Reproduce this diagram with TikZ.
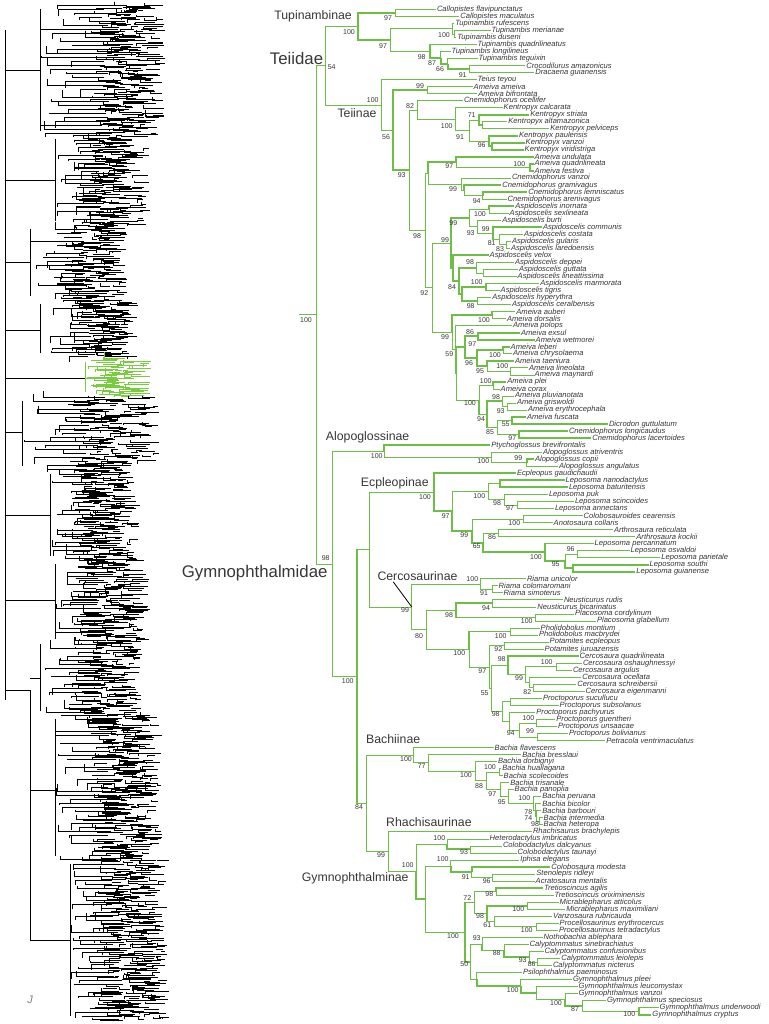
\documentclass[tikz,border=0pt]{standalone}
\usepackage{fontspec}
\setmainfont{Liberation Sans}
\usetikzlibrary{calc}
\definecolor{gr}{RGB}{108,190,70}
\definecolor{gl}{RGB}{120,205,60}
\definecolor{tx}{RGB}{55,55,55}
\newcounter{bsn}
\newcommand\lf[3]{%
  \pgfmathsetmacro\ly{9.3+(#1-1)*7.03}%
  \coordinate (l#1) at ({#2-1.5},\ly);
  \node[leaf] (t#1) at (l#1) {#3};}
\newcommand\nd[6]{%
  \coordinate (tmp) at ($(#3)!0.5!(#5)$);
  \coordinate (#1) at (#2,0 |- tmp);
  \draw[#4] (#1) |- (#3);
  \draw[#6] (#1) |- (#5);}
\newcommand\bs[3]{\stepcounter{bsn}\node[bsl] (b\thebsn) at (#2,#3) {#1};}
% block of the overview tree: y1 y2 internal-from internal-to tip-from tip-to style
\newcommand\hair[7]{%
  \pgfmathsetmacro\ynext{#1+0.7}%
  \foreach \yy in {#1,\ynext,...,#2}{%
    \pgfmathsetmacro\xb{#5+rnd*(#6-#5)}%
    \pgfmathsetmacro\xa{\xb-4-rnd*26}%
    \pgfmathsetmacro\dy{(rnd-0.5)*7}%
    \draw[#7] (\xa,\yy+\dy) |- (\xb,\yy);
  }%
  \pgfmathsetmacro\ynextb{#1+4}%
  \foreach \yy in {#1,\ynextb,...,#2}{%
    \pgfmathsetmacro\xa{#3+rnd*(#4-#3)}%
    \pgfmathsetmacro\xb{#4+rnd*(#5-#4)+6}%
    \pgfmathsetmacro\dy{(rnd-0.5)*16}%
    \draw[#7] (\xa,\yy+\dy) |- (\xb,\yy);
  }%
  \draw[#7] (#3,#1+4) -- (#3,#2-4);
}
\tikzset{
  tn/.style={gr, line width=0.7},
  tk/.style={gr, line width=1.8},
  lt/.style={black, line width=0.5},
  lgreen/.style={gl, line width=0.5},
  leaf/.style={anchor=west, inner sep=1pt, font=\fontsize{7.6}{7.6}\selectfont\itshape, text=tx},
  bsl/.style={inner sep=0pt, font=\fontsize{7}{7}\selectfont, text=tx},
  clade/.style={inner sep=0pt, font=\fontsize{12.3}{12.3}\selectfont, text=tx},
  fam/.style={inner sep=0pt, font=\fontsize{16.8}{16.8}\selectfont, text=tx}
}
\begin{document}
\begin{tikzpicture}[x=1pt,y=-1pt]
\useasboundingbox (0,0) rectangle (768,1024);
\fill[white] (0,0) rectangle (768,1024);

% ---------------- left overview tree ----------------
\pgfmathsetseed{42}
\draw[lt] (5,30) -- (5,700);
\draw[lt] (5,70) -- (40,70);
\draw[lt] (5,180) -- (55,180);
\draw[lt] (5,262) -- (30,262);
\draw[lt] (5,330) -- (40,330);
\draw[lt] (5,378) -- (85,378);
\draw[lt] (5,432) -- (22,432);
\draw[lt] (5,515) -- (50,515);
\draw[lt] (5,600) -- (55,600);
\draw[lt] (5,690) -- (30,690);
\draw[lt] (30,690) -- (30,940);
\draw[lt] (30,678) -- (40,678);
\draw[lt] (30,790) -- (55,790);
\draw[lt] (30,940) -- (70,940);
\hair{5}{135}{40}{95}{115}{165}{lt}
\hair{135}{225}{55}{90}{100}{150}{lt}
\hair{225}{300}{30}{75}{80}{128}{lt}
\hair{300}{357}{40}{80}{90}{138}{lt}
\hair{358}{396}{85}{105}{112}{152}{lgreen}
\hair{397}{470}{22}{80}{95}{160}{lt}
\hair{470}{560}{50}{85}{90}{140}{lt}
\hair{560}{640}{55}{90}{95}{150}{lt}
\hair{640}{715}{40}{85}{98}{142}{lt}
\hair{715}{860}{55}{100}{112}{162}{lt}
\hair{860}{1020}{70}{105}{118}{170}{lt}
\node[text=gray, font=\fontsize{11}{11}\selectfont\itshape] (logo) at (30,1000) {J};

% ---------------- leaves ----------------
\lf{1}{437.3}{Callopistes flavipunctatus}
\lf{2}{460.7}{Callopistes maculatus}
\lf{3}{455.7}{Tupinambis rufescens}
\lf{4}{492}{Tupinambis merianae}
\lf{5}{457.7}{Tupinambis duseni}
\lf{6}{478}{Tupinambis quadrilineatus}
\lf{7}{452}{Tupinambis longilineus}
\lf{8}{479}{Tupinambis teguixin}
\lf{9}{526.7}{Crocodilurus amazonicus}
\lf{10}{535.7}{Dracaena guianensis}
\lf{11}{478}{Teius teyou}
\lf{12}{474}{Ameiva ameiva}
\lf{13}{478.7}{Ameiva bifrontata}
\lf{14}{464.3}{Cnemidophorus ocellifer}
\lf{15}{504}{Kentropyx calcarata}
\lf{16}{530.7}{Kentropyx striata}
\lf{17}{508.7}{Kentropyx altamazonica}
\lf{18}{550.7}{Kentropyx pelviceps}
\lf{19}{519.3}{Kentropyx paulensis}
\lf{20}{526}{Kentropyx vanzoi}
\lf{21}{525}{Kentropyx viridistriga}
\lf{22}{535}{Ameiva undulata}
\lf{23}{535}{Ameiva quadrilineata}
\lf{24}{535}{Ameiva festiva}
\lf{25}{512.3}{Cnemidophorus vanzoi}
\lf{26}{502.7}{Cnemidophorus gramivagus}
\lf{27}{528.7}{Cnemidophorus lemniscatus}
\lf{28}{508}{Cnemidophorus arenivagus}
\lf{29}{515.7}{Aspidoscelis inornata}
\lf{30}{510}{Aspidoscelis sexlineata}
\lf{31}{502.7}{Aspidoscelis burti}
\lf{32}{543.3}{Aspidoscelis communis}
\lf{33}{524.3}{Aspidoscelis costata}
\lf{34}{512.3}{Aspidoscelis gularis}
\lf{35}{511.3}{Aspidoscelis laredoensis}
\lf{36}{490}{Aspidoscelis velox}
\lf{37}{515.3}{Aspidoscelis deppei}
\lf{38}{519.3}{Aspidoscelis guttata}
\lf{39}{518}{Aspidoscelis lineattissima}
\lf{40}{540.7}{Aspidoscelis marmorata}
\lf{41}{501}{Aspidoscelis tigris}
\lf{42}{492.7}{Aspidoscelis hyperythra}
\lf{43}{512.3}{Aspidoscelis ceralbensis}
\lf{44}{516.7}{Ameiva auberi}
\lf{45}{507.3}{Ameiva dorsalis}
\lf{46}{513.3}{Ameiva polops}
\lf{47}{521.3}{Ameiva exsul}
\lf{48}{536}{Ameiva wetmorei}
\lf{49}{511}{Ameiva leberi}
\lf{50}{513.3}{Ameiva chrysolaema}
\lf{51}{515.3}{Ameiva taeniura}
\lf{52}{529.3}{Ameiva lineolata}
\lf{53}{535}{Ameiva maynardi}
\lf{54}{507.7}{Ameiva plei}
\lf{55}{501}{Ameiva corax}
\lf{56}{515.3}{Ameiva pluvianotata}
\lf{57}{517.3}{Ameiva griswoldi}
\lf{58}{528.3}{Ameiva erythrocephala}
\lf{59}{527.3}{Ameiva fuscata}
\lf{60}{609.3}{Dicrodon guttulatum}
\lf{61}{569.3}{Cnemidophorus longicaudus}
\lf{62}{592.7}{Cnemidophorus lacertoides}
\lf{63}{491.7}{Ptychoglossus brevifrontalis}
\lf{64}{543.3}{Alopoglossus atriventris}
\lf{65}{535.3}{Alopoglossus copii}
\lf{66}{559.3}{Alopoglossus angulatus}
\lf{67}{517.3}{Ecpleopus gaudichaudii}
\lf{68}{566}{Leposoma nanodactylus}
\lf{69}{569.3}{Leposoma baturitensis}
\lf{70}{549.3}{Leposoma puk}
\lf{71}{575.3}{Leposoma scincoides}
\lf{72}{555.3}{Leposoma annectans}
\lf{73}{584}{Colobosauroides cearensis}
\lf{74}{554}{Anotosaura collaris}
\lf{75}{614.3}{Arthrosaura reticulata}
\lf{76}{636.7}{Arthrosaura kockii}
\lf{77}{595}{Leposoma percarinatum}
\lf{78}{631}{Leposoma osvaldoi}
\lf{79}{661.7}{Leposoma parietale}
\lf{80}{650}{Leposoma southi}
\lf{81}{636.7}{Leposoma guianense}
\lf{82}{527.3}{Riama unicolor}
\lf{83}{499}{Riama colomaromani}
\lf{84}{504}{Riama simoterus}
\lf{85}{564.3}{Neusticurus rudis}
\lf{86}{537.7}{Neusticurus bicarinatus}
\lf{87}{575.3}{Placosoma cordylinum}
\lf{88}{597.3}{Placosoma glabellum}
\lf{89}{541}{Pholidobolus montium}
\lf{90}{539.3}{Pholidobolus macbrydei}
\lf{91}{550}{Potamites ecpleopus}
\lf{92}{545}{Potamites juruazensis}
\lf{93}{580}{Cercosaura quadrilineata}
\lf{94}{583.3}{Cercosaura oshaughnessyi}
\lf{95}{573.3}{Cercosaura argulus}
\lf{96}{582.7}{Cercosaura ocellata}
\lf{97}{577.7}{Cercosaura schreibersii}
\lf{98}{586}{Cercosaura eigenmanni}
\lf{99}{543.3}{Proctoporus sucullucu}
\lf{100}{560}{Proctoporus subsolanus}
\lf{101}{536.7}{Proctoporus pachyurus}
\lf{102}{556.7}{Proctoporus guentheri}
\lf{103}{558.3}{Proctoporus unsaacae}
\lf{104}{569.3}{Proctoporus bolivianus}
\lf{105}{606.7}{Petracola ventrimaculatus}
\lf{106}{495}{Bachia flavescens}
\lf{107}{522.7}{Bachia bresslaui}
\lf{108}{498.3}{Bachia dorbignyi}
\lf{109}{502.7}{Bachia huallagana}
\lf{110}{504}{Bachia scolecoides}
\lf{111}{510.7}{Bachia trisanale}
\lf{112}{515}{Bachia panoplia}
\lf{113}{542.7}{Bachia peruana}
\lf{114}{542.7}{Bachia bicolor}
\lf{115}{542.7}{Bachia barbouri}
\lf{116}{544}{Bachia intermedia}
\lf{117}{544}{Bachia heteropa}
\lf{118}{533.3}{Rhachisaurus brachylepis}
\lf{119}{490}{Heterodactylus imbricatus}
\lf{120}{503.3}{Colobodactylus dalcyanus}
\lf{121}{518}{Colobodactylus taunayi}
\lf{122}{520.7}{Iphisa elegans}
\lf{123}{551.7}{Colobosaura modesta}
\lf{124}{536.7}{Stenolepis ridleyi}
\lf{125}{536}{Acratosaura mentalis}
\lf{126}{544.3}{Tretioscincus agilis}
\lf{127}{555}{Tretioscincus oriximinensis}
\lf{128}{560}{Micrablepharus atticolus}
\lf{129}{566.7}{Micrablepharus maximiliani}
\lf{130}{553.3}{Vanzosaura rubricauda}
\lf{131}{560}{Procellosaurinus erythrocercus}
\lf{132}{559.3}{Procellosaurinus tetradactylus}
\lf{133}{544}{Nothobachia ablephara}
\lf{134}{530}{Calyptommatus sinebrachiatus}
\lf{135}{545}{Calyptommatus confusionibus}
\lf{136}{561.7}{Calyptommatus leiolepis}
\lf{137}{553.3}{Calyptommatus nicterus}
\lf{138}{523.3}{Psilophthalmus paeminosus}
\lf{139}{573.3}{Gymnophthalmus pleei}
\lf{140}{579}{Gymnophthalmus leucomystax}
\lf{141}{579}{Gymnophthalmus vanzoi}
\lf{142}{607.3}{Gymnophthalmus speciosus}
\lf{143}{660}{Gymnophthalmus underwoodi}
\lf{144}{652.7}{Gymnophthalmus cryptus}

% ---------------- Teiidae ----------------
\nd{nCa}{395.3}{l1}{tn}{l2}{tn}
\nd{n45}{454.5}{l4}{tn}{l5}{tn}
\nd{nRu}{452.5}{l3}{tn}{n45}{tn}
\nd{nCr}{469.3}{l9}{tn}{l10}{tn}
\nd{nTg}{447.7}{l8}{tn}{nCr}{tk}
\nd{nLg}{440.7}{l7}{tn}{nTg}{tk}
\nd{nQd}{429.7}{l6}{tk}{nLg}{tk}
\nd{nTp}{390.3}{nRu}{tn}{nQd}{tn}
\nd{nTupi}{357.7}{nCa}{tk}{nTp}{tk}
\nd{nAm}{427.3}{l12}{tn}{l13}{tn}
\nd{n1718}{482.3}{l17}{tn}{l18}{tn}
\nd{n71}{479}{l16}{tk}{n1718}{tk}
\nd{n96k}{491.7}{l20}{tk}{l21}{tk}
\nd{nPa}{489.3}{l19}{tk}{n96k}{tk}
\nd{n91k}{469.3}{n71}{tn}{nPa}{tn}
\nd{nK}{455.7}{l15}{tn}{n91k}{tn}
\nd{n82}{417.3}{l14}{tn}{nK}{tn}
\nd{n2324}{530}{l23}{tk}{l24}{tk}
\nd{nUn}{456}{l22}{tk}{n2324}{tn}
\nd{n94c}{482.7}{l27}{tk}{l28}{tn}
\nd{nGr}{464.3}{l26}{tk}{n94c}{tn}
\nd{nCn}{461.7}{l25}{tn}{nGr}{tn}
\nd{nUC}{428.3}{nUn}{tk}{nCn}{tn}
\nd{n2930}{489.3}{l29}{tk}{l30}{tn}
\nd{n83a}{506.7}{l34}{tn}{l35}{tn}
\nd{n81a}{499}{l33}{tn}{n83a}{tn}
\nd{n99c}{493.3}{l32}{tk}{n81a}{tk}
\nd{n93b}{477.7}{l31}{tn}{n99c}{tn}
\nd{n99a}{469.3}{n2930}{tn}{n93b}{tn}
\nd{n3839}{483.3}{l38}{tn}{l39}{tn}
\nd{n98d}{476.7}{l37}{tn}{n3839}{tn}
\nd{n4041}{486}{l40}{tk}{l41}{tk}
\nd{n4243}{477.7}{l42}{tn}{l43}{tn}
\nd{n84a}{461.7}{n4041}{tk}{n4243}{tk}
\nd{nDe}{459}{n98d}{tk}{n84a}{tk}
\nd{nVe}{453}{l36}{tk}{nDe}{tk}
\nd{nAs}{451}{n99a}{tk}{nVe}{tk}
\nd{n4445}{492.3}{l44}{tk}{l45}{tn}
\nd{n4748}{477.7}{l47}{tk}{l48}{tk}
\nd{n4950}{503.3}{l49}{tk}{l50}{tn}
\nd{n5253}{510.7}{l52}{tn}{l53}{tn}
\nd{n95a}{487.3}{l51}{tk}{n5253}{tn}
\nd{n96a}{476.7}{n4950}{tk}{n95a}{tk}
\nd{n97a}{465}{n4748}{tk}{n96a}{tk}
\nd{n5455}{493.3}{l54}{tk}{l55}{tn}
\nd{n5758}{507.7}{l57}{tn}{l58}{tn}
\nd{n98a}{502.7}{l56}{tn}{n5758}{tn}
\nd{n5960}{511.7}{l59}{tk}{l60}{tk}
\nd{n6162}{519}{l61}{tk}{l62}{tk}
\nd{n85a}{497.3}{n5960}{tn}{n6162}{tn}
\nd{n94a}{486.7}{n98a}{tk}{n85a}{tk}
\nd{n100L}{479}{n5455}{tn}{n94a}{tk}
\nd{n59b}{456.5}{n97a}{tk}{n100L}{tn}
\nd{nPo}{455}{l46}{tn}{n59b}{tn}
\nd{n99m}{452.3}{n4445}{tk}{nPo}{tn}
\nd{n92}{432.3}{nAs}{tn}{n99m}{tn}
\nd{n98t}{425}{nUC}{tn}{n92}{tn}
\nd{n93t}{409.3}{n82}{tn}{n98t}{tn}
\nd{n56}{393.3}{nAm}{tk}{n93t}{tk}
\nd{nTeii}{381.7}{l11}{tn}{n56}{tn}
\nd{nTei}{325}{nTupi}{tn}{nTeii}{tn}

% ---------------- Gymnophthalmidae ----------------
\nd{n6566}{526.7}{l65}{tk}{l66}{tn}
\nd{nAl2}{491}{l64}{tn}{n6566}{tn}
\nd{nAlo}{384.3}{l63}{tk}{nAl2}{tn}
\nd{n6869}{500}{l68}{tk}{l69}{tk}
\nd{n7172}{517.3}{l71}{tn}{l72}{tn}
\nd{n98e}{504.3}{l70}{tn}{n7172}{tn}
\nd{n100e}{488.3}{n6869}{tn}{n98e}{tn}
\nd{n7374}{523.3}{l73}{tn}{l74}{tn}
\nd{n7576}{498.7}{l75}{tn}{l76}{tn}
\nd{n7879}{577.7}{l78}{tn}{l79}{tn}
\nd{n8081}{573.3}{l80}{tk}{l81}{tk}
\nd{nJ}{565}{n7879}{tn}{n8081}{tk}
\nd{nPe}{545}{l77}{tk}{nJ}{tk}
\nd{n65e}{483.3}{n7576}{tn}{nPe}{tk}
\nd{n99e}{472.3}{n7374}{tn}{n65e}{tk}
\nd{n97e}{452.3}{n100e}{tn}{n99e}{tk}
\nd{nEcp}{434.3}{l67}{tk}{n97e}{tk}
\nd{n8384}{492.3}{l83}{tn}{l84}{tn}
\nd{nRi}{480}{l82}{tn}{n8384}{tn}
\nd{n8586}{492.3}{l85}{tn}{l86}{tn}
\nd{n8788}{535}{l87}{tn}{l88}{tn}
\nd{n98n}{455.7}{n8586}{tk}{n8788}{tk}
\nd{n8990}{510}{l89}{tn}{l90}{tn}
\nd{n9192}{504.3}{l91}{tn}{l92}{tn}
\nd{n9495}{556}{l94}{tn}{l95}{tn}
\nd{n9798}{533.3}{l97}{tn}{l98}{tn}
\nd{nOc}{529.3}{l96}{tn}{n9798}{tn}
\nd{n99o}{525.7}{n9495}{tn}{nOc}{tn}
\nd{n98q}{508.3}{l93}{tk}{n99o}{tk}
\nd{n99100}{510}{l99}{tn}{l100}{tn}
\nd{n102103}{536.7}{l102}{tn}{l103}{tn}
\nd{n104105}{537.3}{l104}{tn}{l105}{tn}
\nd{n94p}{519.3}{n102103}{tn}{n104105}{tn}
\nd{nPp}{509.3}{l101}{tn}{n94p}{tn}
\nd{n98p}{502.3}{n99100}{tn}{nPp}{tn}
\nd{n55c}{491}{n98q}{tn}{n98p}{tn}
\nd{n97c}{489}{n9192}{tn}{n55c}{tn}
\nd{n100c}{469}{n8990}{tk}{n97c}{tn}
\nd{n80c}{426.7}{n98n}{tn}{n100c}{tn}
\nd{n99r}{411.7}{nRi}{tn}{n80c}{tn}
\nd{nEC}{369}{nEcp}{tn}{n99r}{tn}
\nd{n109110}{499}{l109}{tn}{l110}{tn}
\nd{n116117}{539.3}{l116}{tn}{l117}{tn}
\nd{n74b}{536}{l115}{tn}{n116117}{tn}
\nd{n78b}{535}{l114}{tn}{n74b}{tn}
\nd{nPer}{533.3}{l113}{tn}{n78b}{tn}
\nd{n95b}{508.3}{l112}{tn}{nPer}{tn}
\nd{n97b}{500}{l111}{tn}{n95b}{tn}
\nd{n88b}{486.7}{n109110}{tn}{n97b}{tn}
\nd{n100ba}{475.7}{l108}{tn}{n88b}{tn}
\nd{n77b}{428.3}{l107}{tn}{n100ba}{tn}
\nd{nBac}{413.3}{l106}{tn}{n77b}{tn}
\nd{n120121}{470.7}{l120}{tn}{l121}{tn}
\nd{nHet}{447.3}{l119}{tn}{n120121}{tk}
\nd{n124125}{492.3}{l124}{tn}{l125}{tn}
\nd{n91g}{471.7}{l123}{tk}{n124125}{tn}
\nd{nIph}{450.7}{l122}{tn}{n91g}{tk}
\nd{n126127}{496}{l126}{tk}{l127}{tn}
\nd{n128129}{527.3}{l128}{tn}{l129}{tn}
\nd{n131132}{536}{l131}{tn}{l132}{tn}
\nd{n61g}{494}{l130}{tn}{n131132}{tn}
\nd{n98g}{487.3}{n128129}{tk}{n61g}{tk}
\nd{n72g}{474.3}{n126127}{tn}{n98g}{tn}
\nd{n136137}{537.3}{l136}{tn}{l137}{tn}
\nd{n93c}{529.3}{l135}{tn}{n136137}{tn}
\nd{n88c}{504}{l134}{tn}{n93c}{tk}
\nd{n93n}{482.3}{l133}{tn}{n88c}{tk}
\nd{n143144}{639}{l143}{tk}{l144}{tk}
\nd{n87g}{582.7}{l142}{tn}{n143144}{tn}
\nd{n100v}{565.3}{l141}{tn}{n87g}{tk}
\nd{nLeu}{536}{l140}{tn}{n100v}{tn}
\nd{n100g}{520.7}{l139}{tn}{nLeu}{tk}
\nd{nPsi}{476.7}{l138}{tn}{n100g}{tk}
\nd{n50g}{470}{n93n}{tn}{nPsi}{tn}
\nd{n100lo}{465}{n72g}{tk}{n50g}{tk}
\nd{n425}{425.7}{nIph}{tn}{n100lo}{tn}
\nd{nGym}{416}{nHet}{tn}{n425}{tk}
\nd{nRh}{388.3}{l118}{tn}{nGym}{tn}
\nd{n84g}{366.7}{nBac}{tn}{nRh}{tn}
\nd{n100big}{357.3}{nEC}{tk}{n84g}{tk}
\nd{nGyO}{332.3}{nAlo}{tn}{n100big}{tn}
\nd{root}{316}{nTei}{tn}{nGyO}{tn}
\coordinate (rstem) at (299,0 |- root);
\draw[tn] (rstem) -- (root);

% ---------------- clade labels ----------------
\node[clade, anchor=east] (cTup) at (352,16.7) {Tupinambinae};
\node[fam, anchor=east] (cTei) at (323.3,58.3) {Teiidae};
\node[clade, anchor=west] (cTeii) at (337.3,113.3) {Teiinae};
\node[clade, anchor=west] (cAlo) at (325.7,437.7) {Alopoglossinae};
\node[clade, anchor=west] (cEcp) at (360.7,483.3) {Ecpleopinae};
\node[fam, anchor=east] (cGym) at (327.7,573.3) {Gymnophthalmidae};
\node[clade, anchor=west] (cCer) at (377.3,575.7) {Cercosaurinae};
\node[clade, anchor=west] (cBac) at (366,739.3) {Bachiinae};
\node[clade, anchor=west] (cRha) at (386,822.3) {Rhachisaurinae};
\node[clade, anchor=west] (cGyn) at (301.7,878.3) {Gymnophthalminae};
\coordinate (cerfoot) at ($(cCer.south west)+(16,1.5)$);
\draw[black, line width=0.8] (cerfoot) -- (n99r);

% ---------------- support values ----------------
\bs{97}{388}{18} \bs{100}{349}{32} \bs{100}{444}{34.7} \bs{97}{383}{46}
\bs{98}{421.7}{56.7} \bs{87}{432}{63} \bs{66}{440}{69} \bs{91}{462.7}{75}
\bs{54}{331.7}{66.7} \bs{99}{420}{85.7} \bs{100}{372.7}{100} \bs{82}{410}{106}
\bs{71}{471.7}{115} \bs{100}{446.7}{125.7} \bs{91}{460}{136.7} \bs{56}{386}{136.7}
\bs{96}{481.7}{145} \bs{97}{449.3}{166} \bs{100}{519.3}{164} \bs{93}{401.7}{175}
\bs{99}{453}{189.3} \bs{94}{476.7}{200.7} \bs{100}{480}{214.3} \bs{99}{453.3}{222.7}
\bs{99}{485.7}{229} \bs{93}{470.7}{232.7} \bs{98}{417}{235.7} \bs{99}{445}{240}
\bs{81}{491.7}{243.3} \bs{83}{500}{248.8} \bs{98}{470}{261.7} \bs{100}{476.7}{282.3}
\bs{84}{452}{287.3} \bs{92}{424.3}{292.7} \bs{98}{470.7}{306} \bs{100}{306}{320}
\bs{100}{484}{320} \bs{86}{470}{332.3} \bs{99}{445}{337.3} \bs{97}{472.3}{344}
\bs{100}{495}{355} \bs{59}{449.3}{354.3} \bs{96}{469}{363.3} \bs{100}{502.3}{366}
\bs{95}{480}{370.7} \bs{100}{485.7}{380.7} \bs{98}{496}{396.7} \bs{100}{470}{403.3}
\bs{93}{500.7}{411} \bs{94}{481}{419.3} \bs{55}{505.7}{424.3} \bs{85}{490}{431.7}
\bs{97}{512.3}{438.3} \bs{100}{376.7}{455.7} \bs{100}{483.3}{461} \bs{99}{518.3}{457.7}
\bs{100}{425}{496.7} \bs{100}{479.3}{495.7} \bs{98}{497}{502.7} \bs{97}{510}{508.3}
\bs{97}{445.7}{515.7} \bs{100}{514.3}{523.3} \bs{99}{464.3}{535} \bs{86}{492}{537.3}
\bs{65}{476.7}{546} \bs{100}{536}{557.3} \bs{96}{570.7}{549.3} \bs{95}{555.7}{564.3}
\bs{98}{325.7}{558.3} \bs{100}{472.3}{579.3} \bs{91}{484}{592.7} \bs{94}{486}{607.7}
\bs{99}{405}{610} \bs{98}{449}{615} \bs{100}{526.7}{621} \bs{100}{500.7}{635.7}
\bs{80}{419}{635.7} \bs{92}{498.3}{649.3} \bs{100}{459.3}{652.7} \bs{98}{501.7}{659.3}
\bs{100}{546.7}{661.7} \bs{97}{482.3}{670.7} \bs{99}{519}{677.7} \bs{100}{347.7}{681}
\bs{82}{527.3}{691.7} \bs{55}{484.7}{692.7} \bs{98}{495.7}{714.3} \bs{100}{528.3}{717.7}
\bs{99}{530}{730.7} \bs{94}{510.7}{733.3} \bs{100}{406}{759.3} \bs{77}{421.7}{766}
\bs{100}{490}{766.7} \bs{100}{466}{775} \bs{88}{479}{785.7} \bs{97}{492.3}{794.3}
\bs{100}{524.3}{798.3} \bs{95}{501.7}{801.7} \bs{84}{359}{806.7} \bs{78}{528.3}{811.7}
\bs{74}{528.3}{818.3} \bs{98}{535}{824.3} \bs{100}{439.3}{838.3} \bs{93}{464}{852.3}
\bs{99}{381}{855} \bs{100}{442.7}{859.3} \bs{100}{407.7}{865} \bs{91}{465.7}{876.7}
\bs{96}{486.7}{880.7} \bs{98}{489.3}{894.3} \bs{72}{467.3}{898.3} \bs{100}{518.3}{909.3}
\bs{98}{480}{915.7} \bs{61}{487.3}{925} \bs{100}{526.7}{930} \bs{100}{453}{936}
\bs{93}{476.7}{938.3} \bs{88}{496.7}{953.3} \bs{93}{522.7}{960} \bs{86}{531.7}{964.3}
\bs{50}{464.3}{964.3} \bs{100}{512.7}{990} \bs{100}{556}{1002.7} \bs{87}{575}{1009}
\bs{100}{629.3}{1014}
\end{tikzpicture}
\end{document}
